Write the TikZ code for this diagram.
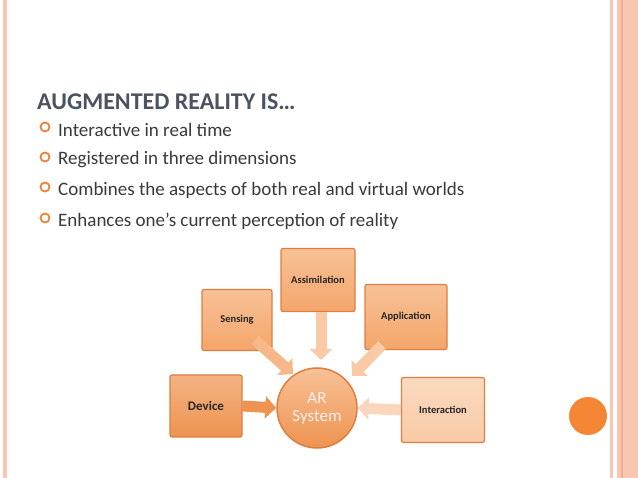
\documentclass[tikz,border=0pt]{standalone}
\usepackage{fontspec}
\setmainfont{Carlito}
\usetikzlibrary{arrows.meta}
\definecolor{stripe}{HTML}{F9C6B2}
\definecolor{stripeD}{HTML}{F2AE94}
\definecolor{titlec}{HTML}{4B5260}
\definecolor{bodyc}{HTML}{3A3A3A}
\definecolor{bul}{HTML}{E8853A}
\definecolor{boxc}{HTML}{F4A66A}
\definecolor{boxd}{HTML}{EE9350}
\definecolor{boxe}{HTML}{E07E40}
\definecolor{dotc}{HTML}{F58634}
\definecolor{artext}{HTML}{F4F0EC}
\tikzset{
  box/.style={draw=boxe, line width=1.2pt, rounded corners=2pt, top color=#1!70!white, bottom color=#1, font=\bfseries\fontsize{10.5}{12}\selectfont, text=black!85},
  bullet/.style={circle, draw=bul, line width=1.8pt, inner sep=0pt, minimum size=9pt},
  bodytext/.style={anchor=west, text=bodyc, font=\fontsize{19}{21}\selectfont, inner sep=0pt}
}
\begin{document}
\begin{tikzpicture}[x=1pt,y=-1pt]
\useasboundingbox (0,0) rectangle (638,478);
\fill[white] (0,0) rectangle (638,478);
% borders
\fill[stripe] (3,0) rectangle (7,478);
\fill[stripe] (610,0) rectangle (613,478);
\fill[stripe] (617,0) rectangle (638,478);
\fill[stripeD] (621,0) rectangle (623,478);
\node[circle, fill=dotc, minimum size=38pt, inner sep=0pt] (dot) at (588,416) {};
% title
\node[anchor=base west, text=titlec, font=\bfseries\fontsize{24}{26}\selectfont, inner sep=0pt] (title) at (37,110) {AUGMENTED REALITY IS…};
% bullets
\foreach \y/\t [count=\i] in {130/Interactive in real time, 160/Registered in three dimensions, 190/Combines the aspects of both real and virtual worlds, 221/Enhances one’s current perception of reality}{
  \node[bullet] (b\i) at (45,\y-3) {};
  \node[bodytext] (t\i) at (58,\y) {\t};
}
% diagram boxes
\node[box=boxc, minimum width=70pt, minimum height=61pt] (sens) at (237,320) {Sensing};
\node[box=boxc, minimum width=74pt, minimum height=63pt] (assim) at (318,280) {Assimilation};
\node[box=boxc, minimum width=82pt, minimum height=65pt] (appl) at (406,317) {Application};
\node[box=boxd, minimum width=72pt, minimum height=62pt, font=\bfseries\fontsize{13}{14}\selectfont] (dev) at (206,406) {Device};
\node[box=boxc!60!white, minimum width=83pt, minimum height=65pt] (inter) at (443,410) {Interaction};
% center circle
\node[circle, draw=boxe, line width=1.5pt, top color=boxc!70!white, bottom color=boxd, minimum size=80pt, inner sep=0pt, align=center, text=artext, font=\fontsize{17}{18}\selectfont] (ar) at (317,408) {AR\\System};
% arrows
\coordinate (a1s) at (255,340); \coordinate (a1e) at (293,374);
\coordinate (a2s) at (321,312); \coordinate (a2e) at (321,360);
\coordinate (a3s) at (382,345); \coordinate (a3e) at (352,376);
\begin{scope}[line width=11pt, line cap=butt]
\draw[boxc!80!white, -{Triangle[width=22pt,length=11pt]}] (a1s) -- (a1e);
\draw[boxc!60!white, -{Triangle[width=22pt,length=11pt]}] (a2s) -- (a2e);
\draw[boxc!60!white, -{Triangle[width=22pt,length=11pt]}] (a3s) -- (a3e);
\draw[boxd, -{Triangle[width=22pt,length=11pt]}] (dev.east) -- (ar.west);
\draw[boxc!45!white, -{Triangle[width=22pt,length=11pt]}] (inter.west) -- (ar.east);
\end{scope}
\end{tikzpicture}
\end{document}
